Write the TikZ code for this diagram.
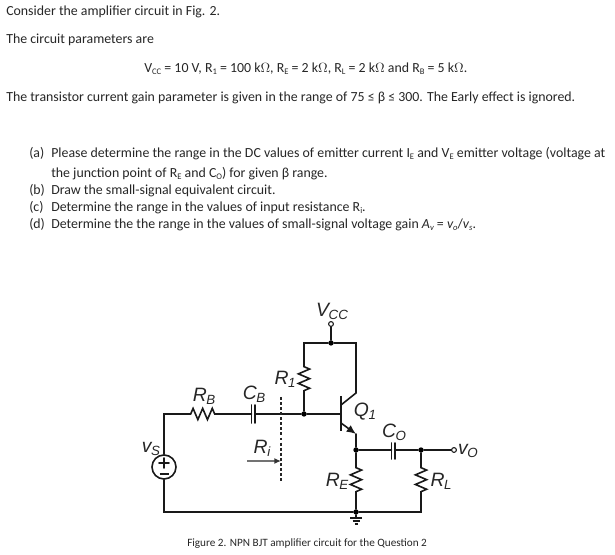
\documentclass[tikz,border=0pt]{standalone}
\usepackage{fontspec}
\setmainfont{Carlito}
\newfontfamily\circfont{Liberation Sans}
\usetikzlibrary{decorations.pathmorphing,arrows.meta}
\newcommand{\sbs}[1]{\raisebox{-0.2ex}{\scalebox{0.62}{#1}}}
\newcommand{\lbl}[2]{{\circfont\itshape\fontsize{14.5}{14.5}\selectfont #1\kern-0.02em\raisebox{-0.3ex}{\fontsize{10}{10}\selectfont #2}}}
\tikzset{
  x=0.75pt,y=-0.75pt,
  wire/.style={line width=1.2pt,black!90,line cap=round},
  res/.style={wire,line join=miter,decorate,decoration={zigzag,segment length=7.2pt,amplitude=4.2pt,pre length=0.5pt,post length=0.5pt}},
  para/.style={anchor=base west,inner sep=0,font=\fontsize{10.4}{12}\selectfont,text=black!85},
  dot/.style={circle,fill=black,inner sep=0,minimum size=4pt},
  term/.style={circle,draw=black!90,fill=white,line width=0.8pt,inner sep=0,minimum size=3.6pt},
  lab/.style={inner sep=0,text=black!85},
}
\begin{document}
\begin{tikzpicture}
\useasboundingbox (0,0) rectangle (615,555);
% text
\node[para] (t1) at (6,16) {Consider the amplifier circuit in Fig. 2.};
\node[para] (t2) at (6,44) {The circuit parameters are};
\node[para] (t3) at (144,73) {V\sbs{CC} = 10 V, R\sbs{1} = 100 k$\Omega$, R\sbs{E} = 2 k$\Omega$, R\sbs{L} = 2 k$\Omega$ and R\sbs{B} = 5 k$\Omega$.};
\node[para] (t4) at (6,102) {The transistor current gain parameter is given in the range of 75 ≤ β ≤ 300. The Early effect is ignored.};
\node[para] (a0) at (29,158) {(a)};
\node[para] (a1) at (51,158) {Please determine the range in the DC values of emitter current I\sbs{E} and V\sbs{E} emitter voltage (voltage at};
\node[para] (a2) at (51,178) {the junction point of R\sbs{E} and C\sbs{O}) for given β range.};
\node[para] (b0) at (29,195) {(b)};
\node[para] (b1) at (51,195) {Draw the small-signal equivalent circuit.};
\node[para] (c0) at (29,212) {(c)};
\node[para] (c1) at (51,212) {Determine the range in the values of input resistance R\sbs{i}.};
\node[para] (d0) at (29,229) {(d)};
\node[para] (d1) at (51,229) {Determine the the range in the values of small-signal voltage gain \textit{A\sbs{v}} = \textit{v\sbs{o}}/\textit{v\sbs{s}}.};
\node[para,font=\fontsize{8.4}{10}\selectfont] (cap) at (187,547) {Figure 2. NPN BJT amplifier circuit for the Question 2};
% coordinates
\coordinate (tl) at (164,414);
\coordinate (rb1) at (190,414);
\coordinate (rb2) at (219,414);
\coordinate (cb1) at (251.5,414);
\coordinate (cb2) at (255,414);
\coordinate (boxl) at (304,343);
\coordinate (boxr) at (356,343);
\coordinate (r1a) at (304,366);
\coordinate (r1b) at (304,395);
\coordinate (bar1) at (341,396);
\coordinate (bar2) at (341,431);
\coordinate (bmid) at (341,414);
\coordinate (cend) at (356,393);
\coordinate (cbar) at (341,405);
\coordinate (ebar) at (341,423);
\coordinate (etip) at (356,434);
\coordinate (co1) at (391.5,450);
\coordinate (co2) at (395,450);
\coordinate (rea) at (356,467);
\coordinate (reb) at (356,497);
\coordinate (rla) at (421,467);
\coordinate (rlb) at (421,497);
\coordinate (rlbot) at (421,512);
\coordinate (botl) at (164,512);
\coordinate (g0) at (356,518);
\coordinate (dash1) at (281,397);
\coordinate (dash2) at (281,483);
\coordinate (arr1) at (247,461);
\coordinate (arr2) at (281,461);
% nodes
\node[term] (vcc) at (331,324) {};
\node[dot] (jtop) at (331,343) {};
\node[dot] (jb) at (304,414) {};
\node[dot] (je) at (356,450) {};
\node[dot] (jo) at (421,450) {};
\node[dot] (jg) at (356,512) {};
\node[term] (vo) at (454,450) {};
\node[circle,draw=black!90,line width=1.2pt,minimum size=18pt,inner sep=0] (vs) at (164,467) {};
% sign marks in the source
\draw[wire] (164,458) -- (164,468) (159,463) -- (169,463);
\draw[line width=1.5pt,black!90] (159.5,474) -- (168.5,474);
% wires
\draw[wire] (vs) -- (tl) -- (rb1);
\draw[res] (rb1) -- (rb2);
\draw[wire] (rb2) -- (cb1) (cb2) -- (jb) -- (bmid);
\draw[wire] (251.5,405) -- (251.5,423) (255,405) -- (255,423);
\draw[res] (r1a) -- (r1b);
\draw[wire] (jb) -- (r1b) (r1a) -- (boxl) -- (jtop) -- (boxr) -- (cend) -- (cbar);
\draw[wire] (vcc) -- (jtop);
\draw[line width=1.4pt,black!90] (bar1) -- (bar2);
\draw[wire,-{Latex[length=7pt,width=6pt]}] (ebar) -- (etip);
\draw[wire] (etip) -- (je) -- (rea);
\draw[res] (rea) -- (reb);
\draw[wire] (reb) -- (jg);
\draw[wire] (je) -- (co1) (co2) -- (jo) -- (vo);
\draw[wire] (391.5,443) -- (391.5,459) (395,443) -- (395,459);
\draw[wire] (jo) -- (rla);
\draw[res] (rla) -- (rlb);
\draw[wire] (rlb) -- (rlbot) -- (jg) -- (botl) -- (vs);
\draw[wire] (jg) -- (g0);
\draw[line width=0.9pt,black!90] (350,518) -- (362,518) (352.5,521) -- (359.5,521) (354.5,524) -- (357.5,524);
\draw[line width=0.9pt,dash pattern=on 2.2pt off 1.6pt,black!85] (dash1) -- (dash2);
\draw[line width=1pt,black!55,-{Latex[length=5pt,width=4.5pt,black!80]}] (arr1) -- (arr2);
% labels
\node[lab] (lvcc) at (332,311) {\lbl{V}{CC}};
\node[lab] (lr1) at (285,379) {\lbl{R}{1}};
\node[lab] (lrb) at (204,396) {\lbl{R}{B}};
\node[lab] (lcb) at (254,394) {\lbl{C}{B}};
\node[lab] (lq1) at (365,412) {\lbl{Q}{1}};
\node[lab] (lco) at (394,432) {\lbl{C}{O}};
\node[lab] (lri) at (262,448) {\lbl{R}{i}};
\node[lab] (lvs) at (151,449) {\lbl{v}{S}};
\node[lab] (lre) at (337,481) {\lbl{R}{E}};
\node[lab] (lrl) at (441,481) {\lbl{R}{L}};
\node[lab] (lvo) at (468,451) {\lbl{v}{O}};
\end{tikzpicture}
\end{document}
